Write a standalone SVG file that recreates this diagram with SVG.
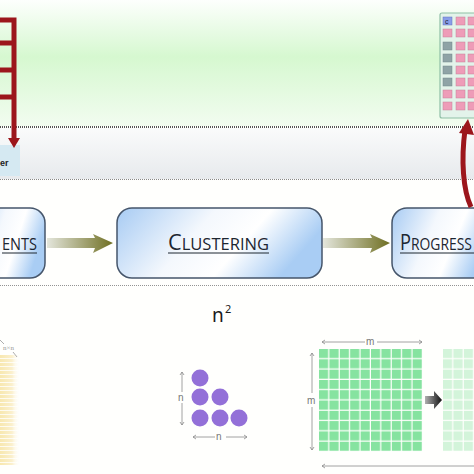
<svg xmlns="http://www.w3.org/2000/svg" width="474" height="474" viewBox="0 0 474 474">
  <defs>
    <linearGradient id="gTop" x1="0" y1="0" x2="0" y2="1">
      <stop offset="0" stop-color="#fdfffd"/>
      <stop offset="0.45" stop-color="#d6f8d0"/>
      <stop offset="1" stop-color="#f2fcf0"/>
    </linearGradient>
    <linearGradient id="gGray" x1="0" y1="0" x2="0" y2="1">
      <stop offset="0" stop-color="#fafbfb"/>
      <stop offset="1" stop-color="#e7eaed"/>
    </linearGradient>
    <linearGradient id="gBox" x1="0" y1="0" x2="1" y2="0.3">
      <stop offset="0" stop-color="#a7cbf3"/>
      <stop offset="0.45" stop-color="#f4f8fd"/>
      <stop offset="0.7" stop-color="#ffffff"/>
      <stop offset="1" stop-color="#a9cdf4"/>
    </linearGradient>
    <linearGradient id="gArrow" x1="0" y1="0" x2="1" y2="0">
      <stop offset="0" stop-color="#e4e6dc"/>
      <stop offset="1" stop-color="#6f6f22"/>
    </linearGradient>
    <linearGradient id="gBlack" x1="0" y1="0" x2="1" y2="0">
      <stop offset="0" stop-color="#b0b0b0"/>
      <stop offset="1" stop-color="#111"/>
    </linearGradient>
    <linearGradient id="gYellow" x1="0" y1="0" x2="1" y2="0">
      <stop offset="0" stop-color="#f5df95"/>
      <stop offset="0.6" stop-color="#f9ebbd"/>
      <stop offset="1" stop-color="#ffffff" stop-opacity="0"/>
    </linearGradient>
    <pattern id="green" x="319" y="349" width="10.4" height="10.3" patternUnits="userSpaceOnUse">
      <rect x="0" y="0" width="9.2" height="9.1" fill="#86e3a0"/>
    </pattern>
    <pattern id="greenPale" x="443" y="349" width="10.4" height="10.3" patternUnits="userSpaceOnUse">
      <rect x="0" y="0" width="9.2" height="9.1" fill="#d3f4da"/>
    </pattern>
    <pattern id="yel" x="0" y="355" width="20" height="4" patternUnits="userSpaceOnUse">
      <rect x="0" y="0" width="20" height="3.2" fill="url(#gYellow)"/>
    </pattern>
    <style>
      .box{fill:url(#gBox);stroke:#46566b;stroke-width:1.5}
      .cap{font-family:"Open Sans","Noto Sans",sans-serif;fill:#1d2631}
      .red{fill:none;stroke:#9c161c;stroke-width:5}
      .dim{stroke:#8a8a8a;stroke-width:0.8;fill:none}
      .lbl{font-family:"Liberation Sans",sans-serif;font-size:10px;fill:#777}
      .pink{fill:#ee9cb8;stroke:#c87f98;stroke-width:0.5}
      .gray{fill:#8fa3a6;stroke:#73898b;stroke-width:0.5}
      .dot{fill:#9370d8}
    </style>
  </defs>

  <!-- background bands -->
  <rect x="0" y="0" width="474" height="474" fill="#fffffd"/>
  <rect x="0" y="0" width="474" height="126" fill="url(#gTop)"/>
  <rect x="0" y="128" width="474" height="51" fill="url(#gGray)"/>
  <line x1="0" y1="127" x2="474" y2="127" stroke="#555" stroke-width="2" stroke-dasharray="1,1"/>
  <line x1="0" y1="179.5" x2="474" y2="179.5" stroke="#888" stroke-width="1" stroke-dasharray="1,1"/>
  <line x1="0" y1="285.5" x2="474" y2="285.5" stroke="#777" stroke-width="0.8" stroke-dasharray="1,1"/>

  <!-- top-left viewer node -->
  <g id="viewer">
    <rect x="-4" y="145" width="24" height="31" fill="#d5e9f2"/>
    <text x="0" y="166" font-family="Liberation Sans,sans-serif" font-size="9" font-weight="bold" fill="#222">er</text>
  </g>

  <!-- top-right grid node -->
  <g id="grid">
    <rect x="440" y="13" width="40" height="105" rx="2" fill="#e3f3ea" stroke="#8fbfa6" stroke-width="1.2"/>
    <rect x="443" y="17" width="9" height="8" fill="#8a9ee8" stroke="#6070c0" stroke-width="0.5"/>
    <text x="445" y="24" font-family="Liberation Sans,sans-serif" font-size="7" fill="#223">c</text>
    <rect class="pink" x="443" y="29" width="9" height="8"/>
    <rect class="gray" x="443" y="42" width="9" height="8"/>
    <rect class="gray" x="443" y="54" width="9" height="8"/>
    <rect class="gray" x="443" y="66" width="9" height="8"/>
    <rect class="gray" x="443" y="78" width="9" height="8"/>
    <rect class="pink" x="443" y="90" width="9" height="8"/>
    <rect class="pink" x="443" y="102" width="9" height="8"/>
    <g>
      <rect class="pink" x="456" y="17" width="9" height="8"/><rect class="pink" x="468" y="17" width="9" height="8"/>
      <rect class="pink" x="456" y="29" width="9" height="8"/><rect class="pink" x="468" y="29" width="9" height="8"/>
      <rect class="pink" x="456" y="42" width="9" height="8"/><rect class="pink" x="468" y="42" width="9" height="8"/>
      <rect class="pink" x="456" y="54" width="9" height="8"/><rect class="pink" x="468" y="54" width="9" height="8"/>
      <rect class="pink" x="456" y="66" width="9" height="8"/><rect class="pink" x="468" y="66" width="9" height="8"/>
      <rect class="pink" x="456" y="78" width="9" height="8"/><rect class="pink" x="468" y="78" width="9" height="8"/>
      <rect class="pink" x="456" y="90" width="9" height="8"/><rect class="pink" x="468" y="90" width="9" height="8"/>
      <rect class="pink" x="456" y="102" width="9" height="8"/><rect class="pink" x="468" y="102" width="9" height="8"/>
    </g>
  </g>

  <!-- process boxes -->
  <g id="elements">
    <rect class="box" x="-30" y="208" width="75" height="70" rx="15"/>
    <text class="cap" x="2" y="250" font-size="16" textLength="35" lengthAdjust="spacingAndGlyphs">ENTS</text>
    <line x1="2" y1="253" x2="37" y2="253" stroke="#1d2631" stroke-width="1"/>
  </g>
  <g id="clustering">
    <rect class="box" x="117" y="208" width="205" height="70" rx="15"/>
    <text class="cap" x="168" y="250" textLength="101" lengthAdjust="spacingAndGlyphs"><tspan font-size="21">C</tspan><tspan font-size="16">LUSTERING</tspan></text>
    <line x1="168" y1="253" x2="269" y2="253" stroke="#1d2631" stroke-width="1"/>
  </g>
  <g id="progress">
    <rect class="box" x="392" y="208" width="100" height="70" rx="15"/>
    <text class="cap" x="400" y="250" textLength="72" lengthAdjust="spacingAndGlyphs"><tspan font-size="21">P</tspan><tspan font-size="16">ROGRESS</tspan></text>
    <line x1="400" y1="253" x2="474" y2="253" stroke="#1d2631" stroke-width="1"/>
  </g>

  <!-- connectors -->
  <g id="connectors">
    <polygon points="47,238 95,238 93,234 113,243 93,253 95,248 47,248" fill="url(#gArrow)"/>
    <polygon points="323,238 372,238 370,234 390,243 370,253 372,248 323,248" fill="url(#gArrow)"/>
    <path class="red" d="M0,20 H14 V140 M0,43 H14 M0,70 H14 M0,97 H14"/>
    <polygon points="8,138 20,138 14,148" fill="#9c161c"/>
    <path d="M471,207 C463,190 461,160 465,130" fill="none" stroke="#9c161c" stroke-width="5"/>
    <polygon points="459,133 468,119 474,135" fill="#9c161c"/>
  </g>

  <!-- n^2 -->
  <text x="212" y="322" font-family="Noto Sans,sans-serif" font-size="19" fill="#1a1a1a">n</text>
  <text x="225" y="313" font-family="Noto Sans,sans-serif" font-size="11" fill="#1a1a1a">2</text>

  <!-- bottom-left yellow matrix -->
  <rect x="0" y="355" width="20" height="110" fill="url(#yel)" opacity="0.75"/>
  <text x="3" y="350" font-family="Liberation Serif,serif" font-size="7" fill="#999">n×n</text>
  <line x1="0" y1="340" x2="4" y2="344" stroke="#999" stroke-width="0.8"/>
  <line x1="13" y1="352" x2="17" y2="357" stroke="#999" stroke-width="0.8"/>

  <!-- purple dots -->
  <g id="dots">
    <circle class="dot" cx="200" cy="378" r="8.5"/>
    <circle class="dot" cx="200" cy="397" r="8.5"/>
    <circle class="dot" cx="220" cy="397" r="8.5"/>
    <circle class="dot" cx="200" cy="418" r="8.5"/>
    <circle class="dot" cx="220" cy="418" r="8.5"/>
    <circle class="dot" cx="239" cy="418" r="8.5"/>
    <path class="dim" d="M182,392 V372 M182,403 V425" />
    <path class="dim" d="M180,375 L182,372 L184,375 M180,422 L182,425 L184,422"/>
    <text class="lbl" x="178" y="401">n</text>
    <path class="dim" d="M193,437 H215 M226,437 H247 M196,435 L193,437 L196,439 M244,435 L247,437 L244,439"/>
    <text class="lbl" x="216" y="440">n</text>
  </g>

  <!-- green grids -->
  <g id="greengrid">
    <rect x="319" y="349" width="104" height="103" fill="url(#green)"/>
    <path class="dim" d="M322,342 H365 M377,342 H422 M325,340 L322,342 L325,344 M419,340 L422,342 L419,344"/>
    <text class="lbl" x="366" y="345">m</text>
    <path class="dim" d="M312,353 V393 M312,407 V450 M310,356 L312,353 L314,356 M310,447 L312,450 L314,447"/>
    <text class="lbl" x="307" y="404">m</text>
    <path class="dim" d="M322,466 H474 M325,464 L322,466 L325,468"/>
    <polygon points="425,396 434,396 434,391 442,400 434,409 434,404 425,404" fill="url(#gBlack)"/>
    <rect x="443" y="349" width="31" height="103" fill="url(#greenPale)"/>
  </g>
</svg>
